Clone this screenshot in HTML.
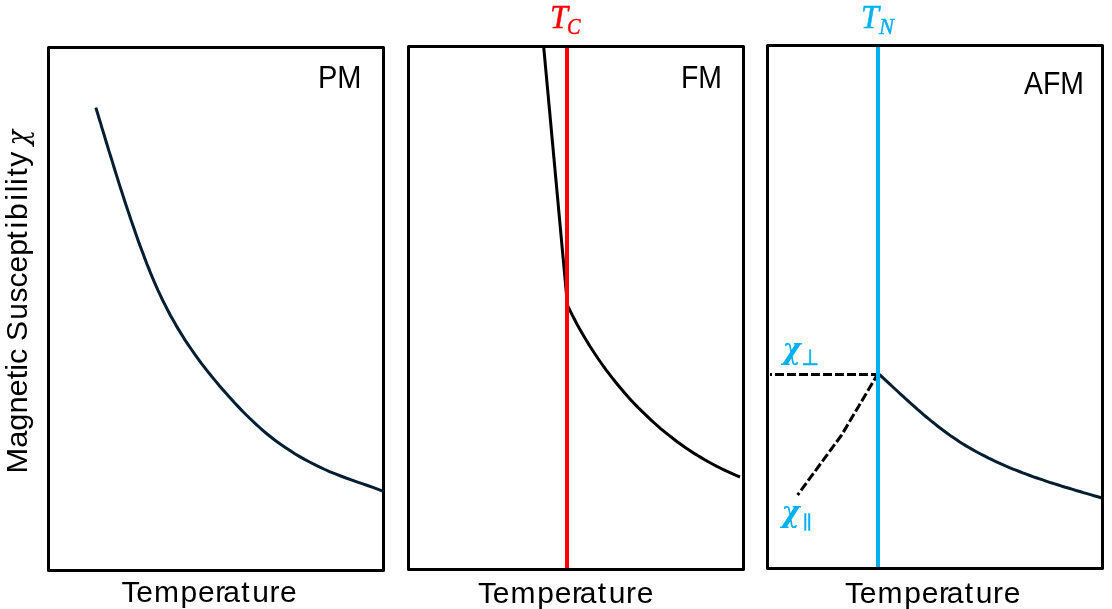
<!DOCTYPE html>
<html lang="en">
<head>
<meta charset="utf-8">
<title>Magnetic susceptibility vs temperature</title>
<style>
html,body{margin:0;padding:0;background:#fff;}
body{width:1112px;height:609px;overflow:hidden;}
svg{display:block;}
.sans{font-family:"Liberation Sans",sans-serif;fill:#000;}
.nk{font-kerning:none;}
.math{font-family:"Liberation Serif","DejaVu Serif",serif;font-style:italic;}
.gk{font-family:"DejaVu Serif","Liberation Serif",serif;font-style:italic;}
.sym{font-family:"DejaVu Sans","Liberation Sans",sans-serif;}
</style>
</head>
<body>
<svg width="1112" height="609" viewBox="0 0 1112 609">
<rect width="1112" height="609" fill="#fff"/>

<!-- panel 1 : PM -->
<rect x="48.5" y="47.5" width="335" height="523" fill="none" stroke="#000" stroke-width="3" stroke-linejoin="round"/>
<path d="M95.8 107.6 L97.5 113.0 L99.1 118.5 L100.8 123.9 L102.4 129.4 L104.1 134.8 L105.7 140.2 L107.4 145.7 L109.0 151.1 L110.7 156.5 L112.4 161.9 L114.0 167.3 L115.7 172.7 L117.4 178.1 L119.1 183.6 L120.8 189.0 L122.6 194.4 L124.3 199.8 L126.1 205.2 L127.9 210.6 L129.7 216.0 L131.5 221.4 L133.4 226.8 L135.2 232.1 L137.1 237.5 L139.0 242.9 L141.0 248.2 L143.0 253.6 L145.0 258.9 L147.0 264.2 L149.1 269.4 L151.2 274.7 L153.4 279.9 L155.7 285.1 L158.0 290.3 L160.4 295.4 L162.8 300.5 L165.4 305.6 L168.0 310.7 L170.6 315.7 L173.4 320.6 L176.2 325.6 L179.1 330.4 L182.1 335.3 L185.1 340.1 L188.3 344.8 L191.5 349.5 L194.7 354.2 L198.1 358.8 L201.4 363.3 L204.9 367.8 L208.4 372.3 L212.0 376.8 L215.6 381.1 L219.2 385.5 L222.9 389.8 L226.7 394.1 L230.5 398.3 L234.3 402.5 L238.2 406.6 L242.1 410.7 L246.1 414.8 L250.2 418.8 L254.3 422.7 L258.5 426.5 L262.8 430.3 L267.1 434.0 L271.5 437.5 L276.0 441.0 L280.6 444.3 L285.3 447.5 L290.0 450.6 L294.8 453.7 L299.7 456.6 L304.6 459.4 L309.6 462.0 L314.7 464.6 L319.8 467.1 L324.9 469.5 L330.1 471.8 L335.4 473.9 L340.7 476.0 L346.0 478.0 L351.4 479.9 L356.8 481.8 L362.1 483.6 L367.5 485.5 L372.9 487.4 L378.2 489.3 L383.5 491.3" fill="none" stroke="#031e30" stroke-width="3" stroke-linejoin="round"/>
<text class="sans" x="318.00" y="87.9" font-size="31" textLength="43.53" lengthAdjust="spacingAndGlyphs">PM</text>
<text class="sans nk" x="121.45" y="602" font-size="30" dx="0.00 -3.55 1.06 1.58 0.79 0.56 -2.07 1.26 2.76 0.44 0.71">Temperature</text>

<!-- y-axis label -->
<g transform="translate(27.2 0) rotate(-90)">
<text class="sans" x="-473.50" y="0" font-size="30" textLength="125.03" lengthAdjust="spacingAndGlyphs">Magnetic</text>
<text class="sans nk" x="-340.90" y="0" font-size="30" dx="0.00 1.14 0.54 -0.05 -0.05 0.19 -0.39 2.71 1.78 2.46 1.86 0.66 1.73 1.41">Susceptibility</text>
<text class="gk" transform="translate(-145.40 0.30) scale(0.876 1)" font-size="29.7" fill="#000">χ</text>
</g>

<!-- panel 2 : FM -->
<path d="M543.7 47 L567.5 305.5" fill="none" stroke="#000" stroke-width="3"/>
<path d="M567.5 305.5 L569.1 308.7 L570.7 311.9 L572.3 315.2 L573.9 318.3 L575.6 321.5 L577.3 324.7 L579.1 327.9 L580.8 331.0 L582.6 334.1 L584.5 337.2 L586.3 340.3 L588.2 343.4 L590.1 346.5 L592.1 349.5 L594.0 352.5 L596.0 355.5 L598.0 358.5 L600.1 361.5 L602.2 364.5 L604.3 367.4 L606.4 370.3 L608.6 373.2 L610.8 376.1 L613.0 378.9 L615.3 381.7 L617.5 384.5 L619.8 387.3 L622.2 390.1 L624.5 392.8 L626.9 395.5 L629.3 398.2 L631.8 400.9 L634.2 403.5 L636.7 406.1 L639.2 408.7 L641.8 411.2 L644.4 413.7 L647.0 416.2 L649.6 418.7 L652.2 421.1 L654.9 423.5 L657.6 425.9 L660.3 428.3 L663.1 430.6 L665.9 432.9 L668.7 435.1 L671.5 437.3 L674.3 439.5 L677.2 441.7 L680.1 443.8 L683.1 445.9 L686.0 447.9 L689.0 449.9 L692.0 451.9 L695.0 453.9 L698.1 455.8 L701.2 457.6 L704.3 459.5 L707.4 461.3 L710.6 463.0 L713.7 464.7 L716.9 466.4 L720.2 468.0 L723.4 469.6 L726.7 471.2 L730.0 472.7 L733.3 474.2 L736.6 475.6 L740.0 477.0" fill="none" stroke="#000" stroke-width="3"/>
<line x1="567" y1="47" x2="567" y2="570" stroke="#ff0000" stroke-width="4"/>
<rect x="408.5" y="46.5" width="335" height="523" fill="none" stroke="#000" stroke-width="3" stroke-linejoin="round"/>
<text class="sans" x="681.00" y="87.9" font-size="31" textLength="41.01" lengthAdjust="spacingAndGlyphs">FM</text>
<text class="sans nk" x="478.05" y="603.3" font-size="30" dx="0.00 -3.55 1.06 1.58 0.79 0.56 -2.07 1.26 2.76 0.44 0.71">Temperature</text>
<text class="math" transform="translate(549.90 27.80) scale(0.955 1)" font-size="33.7" fill="#ff0000" stroke="#ff0000" stroke-width="0.5">T</text>
<text class="math" transform="translate(566.90 33.90) scale(0.895 1)" font-size="22.7" fill="#ff0000" stroke="#ff0000" stroke-width="0.4">C</text>

<!-- panel 3 : AFM -->
<path d="M880 374.5 L770 374.5" fill="none" stroke="#000" stroke-width="3" stroke-dasharray="9 3"/>
<path d="M877.5 374.5 L841.5 435.2 L797.6 495" fill="none" stroke="#000" stroke-width="3" stroke-dasharray="9 3" stroke-dashoffset="2"/>
<path d="M879.3 374.4 L882.0 376.9 L884.7 379.4 L887.4 381.9 L890.1 384.4 L892.9 387.0 L895.6 389.5 L898.3 392.0 L901.1 394.6 L903.9 397.1 L906.6 399.6 L909.4 402.2 L912.2 404.7 L915.0 407.2 L917.8 409.7 L920.7 412.1 L923.5 414.6 L926.4 417.0 L929.3 419.4 L932.2 421.8 L935.2 424.1 L938.1 426.5 L941.1 428.8 L944.1 431.0 L947.1 433.2 L950.1 435.4 L953.2 437.5 L956.3 439.6 L959.4 441.7 L962.6 443.7 L965.7 445.6 L968.9 447.5 L972.2 449.4 L975.4 451.2 L978.7 453.0 L981.9 454.7 L985.3 456.4 L988.6 458.1 L991.9 459.7 L995.3 461.3 L998.7 462.9 L1002.1 464.4 L1005.5 465.9 L1008.9 467.3 L1012.4 468.8 L1015.9 470.2 L1019.3 471.5 L1022.8 472.9 L1026.3 474.2 L1029.8 475.5 L1033.4 476.8 L1036.9 478.0 L1040.4 479.2 L1044.0 480.4 L1047.5 481.6 L1051.1 482.8 L1054.7 483.9 L1058.3 485.0 L1061.8 486.2 L1065.4 487.3 L1069.0 488.3 L1072.6 489.4 L1076.2 490.5 L1079.8 491.5 L1083.4 492.6 L1087.0 493.6 L1090.5 494.6 L1094.1 495.7 L1097.7 496.7 L1101.3 497.7" fill="none" stroke="#031e30" stroke-width="3" stroke-linejoin="round"/>
<line x1="878" y1="46" x2="878" y2="569" stroke="#00b0f0" stroke-width="4"/>
<rect x="767.5" y="45.5" width="335" height="523" fill="none" stroke="#000" stroke-width="3" stroke-linejoin="round"/>
<text class="sans" x="1024.00" y="93.8" font-size="31" textLength="59.95" lengthAdjust="spacingAndGlyphs">AFM</text>
<text class="sans nk" x="845.05" y="603.3" font-size="30" dx="0.00 -3.55 1.06 1.58 0.79 0.56 -2.07 1.26 2.76 0.44 0.71">Temperature</text>
<text class="math" transform="translate(861.00 27.80) scale(0.955 1)" font-size="33.7" fill="#00b0f0" stroke="#00b0f0" stroke-width="0.5">T</text>
<text class="math" transform="translate(878.90 34.00) scale(0.970 1)" font-size="23.2" fill="#00b0f0" stroke="#00b0f0" stroke-width="0.4">N</text>
<text class="gk" transform="translate(782.50 359.00) scale(0.951 1)" font-size="29.4" fill="#00b0f0" font-weight="bold">χ</text>
<text class="sym" transform="translate(801.40 365.00) scale(0.921 1)" font-size="21.7" fill="#00b0f0" stroke="#00b0f0" stroke-width="0.6">⊥</text>
<text class="gk" transform="translate(781.50 521.50) scale(0.934 1)" font-size="29.7" fill="#00b0f0" font-weight="bold">χ</text>
<text class="sym" transform="translate(800.80 527.00) scale(1.390 1)" font-size="18.0" fill="#00b0f0" font-weight="200">∥</text>
</svg>
</body>
</html>
